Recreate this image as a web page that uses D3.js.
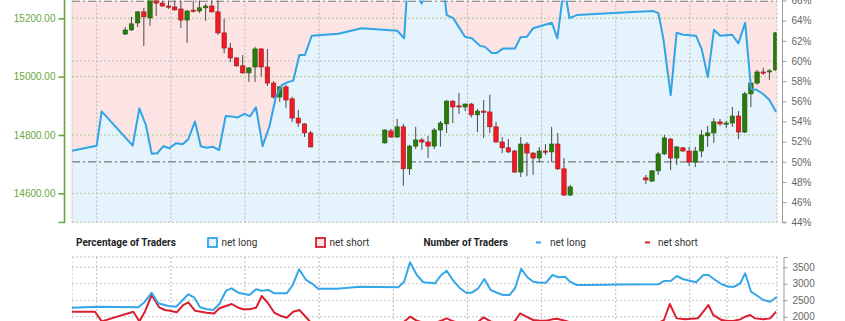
<!DOCTYPE html>
<html>
<head>
<meta charset="utf-8">
<script src="https://cdn.jsdelivr.net/npm/d3@7/dist/d3.min.js"></script>
<style>
  body { margin: 0; background: #fff; }
  svg { display: block; font-family: Roboto, "Noto Sans", sans-serif; }
</style>
</head>
<body>
<svg id="chart" width="845" height="321"></svg>
<script>
//// data (time in hours from the first day line)
// candles: [time, open, high, low, close]
var candles = [
  [9.25, 15146, 15170, 15143, 15160], [11.25, 15160, 15205, 15157, 15181],
  [13.25, 15184, 15225, 15170, 15222], [15.25, 15222, 15236, 15105, 15205],
  [17.25, 15201, 15285, 15174, 15270], [19.25, 15262, 15290, 15208, 15252],
  [21.25, 15252, 15262, 15240, 15242], [23.25, 15242, 15265, 15232, 15238],
  [25.25, 15239, 15270, 15226, 15229], [27.25, 15232, 15275, 15167, 15194],
  [29.25, 15194, 15228, 15116, 15225], [31.25, 15228, 15265, 15220, 15226],
  [33.25, 15225, 15263, 15218, 15236], [35.25, 15236, 15250, 15191, 15242],
  [37.25, 15242, 15270, 15220, 15222], [39.25, 15222, 15275, 15143, 15150],
  [41.25, 15150, 15198, 15080, 15098], [43.25, 15098, 15116, 15050, 15064],
  [45.25, 15064, 15066, 15034, 15037], [47.25, 15037, 15074, 15010, 15013],
  [49.25, 15013, 15032, 14982, 15030], [51.25, 15033, 15102, 14982, 15095],
  [53.25, 15095, 15098, 15000, 15033], [55.25, 15033, 15095, 14968, 14978],
  [57.25, 14978, 14985, 14925, 14930], [59.25, 14930, 14968, 14913, 14965],
  [61.25, 14965, 14972, 14893, 14920], [63.25, 14924, 14931, 14845, 14858],
  [65.25, 14858, 14886, 14828, 14841], [67.25, 14838, 14840, 14793, 14807],
  [69.25, 14807, 14814, 14757, 14759],
  [93.25, 14773, 14820, 14770, 14817], [95.25, 14814, 14821, 14790, 14793],
  [97.25, 14793, 14855, 14790, 14828], [99.25, 14828, 14838, 14626, 14684],
  [101.25, 14684, 14766, 14663, 14762], [103.25, 14762, 14828, 14752, 14783],
  [105.25, 14783, 14790, 14749, 14776], [107.25, 14776, 14797, 14721, 14762],
  [109.25, 14762, 14824, 14752, 14817], [111.25, 14817, 14848, 14760, 14841],
  [113.25, 14838, 14920, 14807, 14916], [115.25, 14916, 14920, 14841, 14896],
  [117.25, 14900, 14944, 14872, 14897], [119.25, 14896, 14908, 14882, 14906],
  [121.25, 14906, 14910, 14860, 14869], [123.25, 14869, 14889, 14810, 14882],
  [125.25, 14882, 14920, 14790, 14879], [127.25, 14879, 14938, 14807, 14828],
  [129.25, 14828, 14845, 14773, 14776], [131.25, 14776, 14793, 14738, 14756],
  [133.25, 14756, 14786, 14738, 14742], [135.25, 14745, 14749, 14670, 14673],
  [137.25, 14673, 14793, 14656, 14769], [139.25, 14769, 14776, 14659, 14738],
  [141.25, 14738, 14742, 14663, 14721], [143.25, 14721, 14759, 14707, 14745],
  [145.25, 14745, 14769, 14731, 14742], [147.25, 14742, 14828, 14707, 14769],
  [149.25, 14769, 14807, 14680, 14684], [151.25, 14684, 14721, 14591, 14594],
  [153.25, 14594, 14629, 14591, 14622],
  [177.75, 14653, 14663, 14632, 14646], [179.75, 14642, 14680, 14639, 14677],
  [181.75, 14677, 14742, 14663, 14735], [183.75, 14735, 14800, 14731, 14790],
  [185.75, 14786, 14790, 14680, 14721], [187.75, 14721, 14762, 14697, 14759],
  [189.75, 14756, 14758, 14743, 14745], [191.75, 14745, 14759, 14694, 14707],
  [193.75, 14707, 14759, 14690, 14745], [195.75, 14745, 14817, 14724, 14800],
  [197.75, 14797, 14831, 14759, 14807], [199.75, 14807, 14858, 14773, 14845],
  [201.75, 14845, 14855, 14831, 14838], [203.75, 14840, 14848, 14824, 14841],
  [205.75, 14841, 14896, 14828, 14865], [207.75, 14865, 14882, 14786, 14810],
  [209.75, 14810, 14948, 14807, 14941], [211.75, 14941, 14982, 14896, 14978],
  [213.75, 14978, 15023, 14972, 15016], [215.75, 15016, 15030, 15006, 15013],
  [217.75, 15016, 15026, 14989, 15020], [219.75, 15023, 15153, 15020, 15150]
];

// percentage of traders net long: [time, %]
var pctLong = [
  [-8, 51.1], [0, 51.6], [1.6, 55.0], [11.65, 51.6], [13.8, 55.3], [15.9, 53.65],
  [17.8, 50.8], [19.6, 50.85], [21.6, 51.55], [23.5, 51.35], [25.7, 51.85],
  [27.8, 51.75], [29.65, 52.25], [31.8, 54.0], [33.7, 51.55], [35.6, 51.4],
  [37.55, 51.5], [39.6, 51.15], [41.75, 54.55], [43.7, 54.5], [45.65, 54.4],
  [47.8, 54.75], [49.6, 54.5], [51.55, 55.4], [53.7, 51.55], [55.9, 53.5],
  [58.0, 56.45], [59.9, 57.6], [61.9, 57.9], [63.6, 58.05], [65.6, 60.6],
  [67.4, 60.6], [69.6, 62.5], [78.2, 62.7], [85.8, 63.25], [97.3, 63.0],
  [99.5, 62.25], [100.6, 67.5], [102.7, 67.0], [105.2, 65.7], [106.8, 67.0],
  [110.0, 67.5], [112.4, 66.8], [113.3, 64.55], [115.4, 64.25], [119.2, 62.4],
  [121.4, 62.25], [124.1, 61.5], [125.7, 61.4], [127.9, 60.8], [129.5, 60.8],
  [131.6, 61.25], [135.4, 61.25], [137.2, 62.35], [139.2, 62.4], [141.3, 63.25],
  [147.3, 63.8], [149.1, 62.25], [151.3, 67.5], [153.0, 64.25], [155.4, 64.55],
  [167.2, 64.75], [180.2, 64.95], [181.8, 64.75], [183.4, 62.25], [185.8, 56.6],
  [187.7, 62.8], [189.8, 62.6], [194.0, 62.5], [195.8, 61.2], [197.8, 58.4],
  [199.8, 63.1], [201.8, 62.5], [205.7, 62.6], [207.7, 61.75], [209.9, 63.8],
  [211.8, 57.2], [213.6, 57.15], [215.8, 56.7], [217.7, 56.15], [219.9, 54.95]
];

// number of traders: [time, count]
var tradersLong = [
  [-8, 2273], [-0.2, 2304], [13.5, 2285], [15.6, 2456], [17.8, 2729], [19.9, 2407],
  [23.2, 2325], [25.7, 2304], [29.65, 2680], [31.5, 2590], [33.45, 2285], [35.6, 2225],
  [37.7, 2203], [39.7, 2386], [41.85, 2790], [43.7, 2862], [45.8, 2729], [49.4, 2659],
  [51.6, 2832], [53.4, 2790], [55.55, 2811], [57.5, 2710], [61.5, 2710], [63.45, 2963],
  [65.5, 3440], [67.75, 3115], [69.6, 3014], [71.7, 2850], [77.7, 2850], [85.2, 2911],
  [97.6, 2893], [99.5, 3063], [101.4, 3652], [103.6, 3266], [105.7, 3045], [109.5, 3014],
  [111.5, 3266], [113.3, 3397], [115.4, 3093], [117.6, 2862], [119.55, 2729], [121.4, 2729],
  [123.5, 2862], [125.5, 3145], [127.5, 2811], [129.5, 2729], [131.6, 2659], [133.6, 2659],
  [135.4, 2862], [137.4, 3449], [139.4, 3197], [141.3, 3063], [143.5, 3033], [145.45, 3033],
  [147.5, 3266], [149.4, 3197], [151.6, 3215], [153.2, 3063], [155.4, 2963], [159.7, 2963],
  [169.5, 2975], [181.8, 2984], [183.6, 3084], [185.9, 3093], [187.8, 3236], [189.9, 3136],
  [194.0, 3045], [196.4, 3266], [198.0, 3266], [200.2, 3115], [202.3, 2984], [204.5, 2911],
  [206.4, 2911], [208.3, 3014], [209.9, 3318], [211.8, 2759], [213.9, 2629], [215.8, 2507],
  [218.0, 2456], [220.2, 2607]
];
var tradersShort = [
  [-8, 2152], [-0.55, 2152], [1.6, 1860], [11.85, 2152], [13.8, 1860], [15.6, 2152],
  [17.8, 2659], [20.2, 2285], [22.1, 2203], [23.7, 2182], [25.9, 2134], [28.0, 2355],
  [29.65, 2437], [31.8, 2182], [33.8, 2152], [35.6, 2121], [38.0, 2100], [39.7, 2255],
  [41.85, 2325], [43.7, 2386], [45.8, 2273], [47.5, 2225], [49.4, 2225], [51.6, 2273],
  [53.4, 2629], [55.35, 2425], [57.5, 2121], [59.7, 2021], [61.5, 1970], [63.6, 2152],
  [65.6, 2203], [67.4, 2021], [69.05, 1850], [71.6, 1780], [77.5, 1780], [85.2, 1800],
  [97.5, 1790], [99.5, 1850], [101.4, 2000], [103.6, 1880], [105.7, 1820], [109.5, 1810],
  [111.5, 1880], [113.3, 1950], [115.4, 1860], [117.6, 1800], [119.55, 1760], [121.4, 1780],
  [123.5, 1850], [125.2, 1980], [127.5, 1860], [129.5, 1800], [131.6, 1780], [133.6, 1790],
  [135.4, 1870], [137.0, 2100], [139.4, 1990], [141.3, 1900], [143.5, 1880], [145.45, 1880],
  [147.5, 1920], [148.9, 1940], [151.6, 1880], [153.2, 1830], [155.4, 1800], [159.7, 1800],
  [181.8, 1810], [183.6, 1900], [185.5, 2386], [187.7, 1950], [190.4, 1920], [194.6, 1950],
  [198.0, 2355], [199.6, 2050], [202.3, 1900], [204.35, 1870], [206.3, 1880], [208.3, 1920],
  [209.9, 2000], [211.5, 2052], [213.1, 1950], [215.8, 1920], [218.0, 1950], [219.9, 2152]
];

// ticks
var dayLines = [0, 24, 48, 72, 96, 120, 144, 168, 192, 204];
var priceTicks = [14600, 14800, 15000, 15200];
var pctTicks = [44, 46, 48, 50, 52, 54, 56, 58, 60, 62, 64, 66];
var pctGray = [60];
var pctDashDot = [50, 66];
var traderTicks = [2000, 2500, 3000, 3500];

//// define parameters
var svg = d3.select("svg#chart");

var x = d3.scaleLinear().domain([-8, 220.2]).range([72, 777]);
var yPrice = d3.scaleLinear().domain([14500, 15261]).range([222.5, 0.5]);
var yPct = d3.scaleLinear().domain([44, 66]).range([222.3, 0.5]);
var yTr = d3.scaleLinear().domain([1500, 3812]).range([333.2, 257]);

var top1 = 0.5, bot1 = 222.3, top2 = 257, bot2 = 340;
var left = 72, right = 777;

var defs = svg.append("defs");
defs.append("clipPath").attr("id", "clip1").append("rect")
    .attr("x", left).attr("y", top1).attr("width", right - left).attr("height", bot1 - top1);
defs.append("clipPath").attr("id", "clip2").append("rect")
    .attr("x", left).attr("y", top2 - 2).attr("width", right - left + 1).attr("height", bot2 - top2);

//// top panel
var p1 = svg.append("g").attr("clip-path", "url(#clip1)");

// net short area (pink) and net long area (blue)
p1.append("rect")
    .attr("x", left).attr("y", top1).attr("width", right - left).attr("height", bot1 - top1)
    .attr("fill", "#fce4e5");

p1.append("path")
    .datum(pctLong)
    .attr("fill", "#e5f3fc")
    .attr("d", d3.area()
        .x(function(d) { return x(d[0]); })
        .y0(bot1)
        .y1(function(d) { return yPct(d[1]); }));

// grid
p1.selectAll("vgrid").data(dayLines).enter().append("line")
    .attr("x1", function(d) { return x(d); }).attr("x2", function(d) { return x(d); })
    .attr("y1", top1).attr("y2", bot1)
    .attr("stroke", "#b8b8b8").attr("stroke-dasharray", "2,2");

p1.selectAll("pgrid").data(priceTicks).enter().append("line")
    .attr("x1", left).attr("x2", right)
    .attr("y1", function(d) { return yPrice(d); }).attr("y2", function(d) { return yPrice(d); })
    .attr("stroke", "#a9c98a").attr("stroke-dasharray", "2,2");

p1.selectAll("ggrid").data(pctGray).enter().append("line")
    .attr("x1", left).attr("x2", right)
    .attr("y1", function(d) { return yPct(d); }).attr("y2", function(d) { return yPct(d); })
    .attr("stroke", "#bdbdbd").attr("stroke-dasharray", "2,2");

p1.selectAll("dashdot").data(pctDashDot).enter().append("line")
    .attr("x1", left).attr("x2", right)
    .attr("y1", function(d) { return yPct(d) + (d === 66 ? 0.6 : 0); })
    .attr("y2", function(d) { return yPct(d) + (d === 66 ? 0.6 : 0); })
    .attr("stroke", "#7a7a7a").attr("stroke-width", 1.3)
    .attr("stroke-dasharray", "8,3,2,3");

// candles
var cg = p1.selectAll("candle").data(candles).enter().append("g");
cg.append("line")
    .attr("x1", function(d) { return x(d[0]); }).attr("x2", function(d) { return x(d[0]); })
    .attr("y1", function(d) { return yPrice(d[2]); }).attr("y2", function(d) { return yPrice(d[3]); })
    .attr("stroke", "#4a4a4a").attr("stroke-width", 1);
cg.append("rect")
    .attr("x", function(d) { return x(d[0]) - 2.2; })
    .attr("width", 4.4)
    .attr("y", function(d) { return yPrice(Math.max(d[1], d[4])); })
    .attr("height", function(d) { return Math.max(1.2, Math.abs(yPrice(d[1]) - yPrice(d[4]))); })
    .attr("fill", function(d) { return d[4] >= d[1] ? "#2c7a0e" : "#ee1d25"; })
    .attr("stroke", function(d) { return d[4] >= d[1] ? "#1f5c08" : "#a3121a"; })
    .attr("stroke-width", 0.6);

// sentiment line
p1.append("path")
    .datum(pctLong)
    .attr("fill", "none")
    .attr("stroke", "#2fa4e7")
    .attr("stroke-width", 2)
    .attr("stroke-linejoin", "round")
    .attr("d", d3.line()
        .x(function(d) { return x(d[0]); })
        .y(function(d) { return yPct(d[1]); }));

// borders
svg.append("line").attr("x1", left).attr("x2", left).attr("y1", top1).attr("y2", bot1)
    .attr("stroke", "#a9c090").attr("stroke-dasharray", "2,2");
svg.append("line").attr("x1", right).attr("x2", right).attr("y1", top1).attr("y2", bot1)
    .attr("stroke", "#bdbdbd").attr("stroke-dasharray", "2,2");
svg.append("line").attr("x1", left).attr("x2", right).attr("y1", bot1).attr("y2", bot1)
    .attr("stroke", "#b0c59a").attr("stroke-dasharray", "2,2");

// axes
var axL = svg.append("g")
    .attr("transform", "translate(64.5,0)")
    .call(d3.axisLeft(yPrice).tickValues(priceTicks).tickFormat(d3.format(".2f"))
        .tickSize(6).tickPadding(3));
axL.selectAll("path, line").attr("stroke", "#6aa63f").attr("stroke-width", 1.6);
axL.selectAll("text").attr("fill", "#6aa63f").style("font-size", "10px");
axL.select(".domain").attr("d", "M-6," + yPrice.range()[0] + "H0V" + (-5));

var axR = svg.append("g")
    .attr("transform", "translate(782.5,0)")
    .call(d3.axisRight(yPct).tickValues(pctTicks).tickFormat(function(d) { return d + "%"; })
        .tickSize(4).tickPadding(5));
axR.selectAll("path, line").attr("stroke", "#9a9a9a");
axR.selectAll("text").attr("fill", "#666").style("font-size", "10px");
axR.select(".domain").attr("d", "M4," + yPct.range()[0] + "H0V" + (-5));

//// legend
var lg = svg.append("g").style("font-size", "10px").attr("fill", "#333");
lg.append("text").attr("x", 76).attr("y", 246).attr("font-weight", "bold").attr("fill", "#222")
    .text("Percentage of Traders");
lg.append("rect").attr("x", 208).attr("y", 238).attr("width", 9).attr("height", 9)
    .attr("fill", "#e5f3fc").attr("stroke", "#2fa4e7").attr("stroke-width", 1.8);
lg.append("text").attr("x", 221.5).attr("y", 246).text("net long");
lg.append("rect").attr("x", 316).attr("y", 238).attr("width", 9).attr("height", 9)
    .attr("fill", "#fce4e5").attr("stroke", "#d8202f").attr("stroke-width", 1.8);
lg.append("text").attr("x", 329.5).attr("y", 246).text("net short");
lg.append("text").attr("x", 423.5).attr("y", 246).attr("font-weight", "bold").attr("fill", "#222")
    .text("Number of Traders");
lg.append("line").attr("x1", 536).attr("x2", 541).attr("y1", 242.5).attr("y2", 242.5)
    .attr("stroke", "#2fa4e7").attr("stroke-width", 2);
lg.append("text").attr("x", 550).attr("y", 246).text("net long");
lg.append("line").attr("x1", 645).attr("x2", 650).attr("y1", 242.5).attr("y2", 242.5)
    .attr("stroke", "#d8202f").attr("stroke-width", 2);
lg.append("text").attr("x", 658).attr("y", 246).text("net short");

//// bottom panel
var p2 = svg.append("g").attr("clip-path", "url(#clip2)");

p2.selectAll("vgrid2").data(dayLines).enter().append("line")
    .attr("x1", function(d) { return x(d); }).attr("x2", function(d) { return x(d); })
    .attr("y1", top2).attr("y2", bot2)
    .attr("stroke", "#bdbdbd").attr("stroke-dasharray", "2,2");
p2.selectAll("hgrid2").data(traderTicks).enter().append("line")
    .attr("x1", left).attr("x2", right)
    .attr("y1", function(d) { return yTr(d); }).attr("y2", function(d) { return yTr(d); })
    .attr("stroke", "#c4c4c4").attr("stroke-dasharray", "2,2");
p2.append("line").attr("x1", left).attr("x2", right).attr("y1", top2).attr("y2", top2)
    .attr("stroke", "#bdbdbd").attr("stroke-dasharray", "2,2");
p2.append("line").attr("x1", left).attr("x2", left).attr("y1", top2).attr("y2", bot2)
    .attr("stroke", "#bdbdbd").attr("stroke-dasharray", "2,2");
p2.append("line").attr("x1", right).attr("x2", right).attr("y1", top2).attr("y2", bot2)
    .attr("stroke", "#bdbdbd").attr("stroke-dasharray", "2,2");

var trLine = d3.line()
    .x(function(d) { return x(d[0]); })
    .y(function(d) { return yTr(d[1]); });

p2.append("path").datum(tradersShort)
    .attr("fill", "none").attr("stroke", "#d91f30").attr("stroke-width", 2)
    .attr("stroke-linejoin", "round").attr("d", trLine);
p2.append("path").datum(tradersLong)
    .attr("fill", "none").attr("stroke", "#35a6e8").attr("stroke-width", 2)
    .attr("stroke-linejoin", "round").attr("d", trLine);

var axR2 = svg.append("g")
    .attr("transform", "translate(783.5,0)")
    .call(d3.axisRight(yTr).tickValues(traderTicks).tickFormat(d3.format("d"))
        .tickSize(4).tickPadding(5));
axR2.selectAll("path, line").attr("stroke", "#9a9a9a");
axR2.selectAll("text").attr("fill", "#666").style("font-size", "10px");
</script>
</body>
</html>
